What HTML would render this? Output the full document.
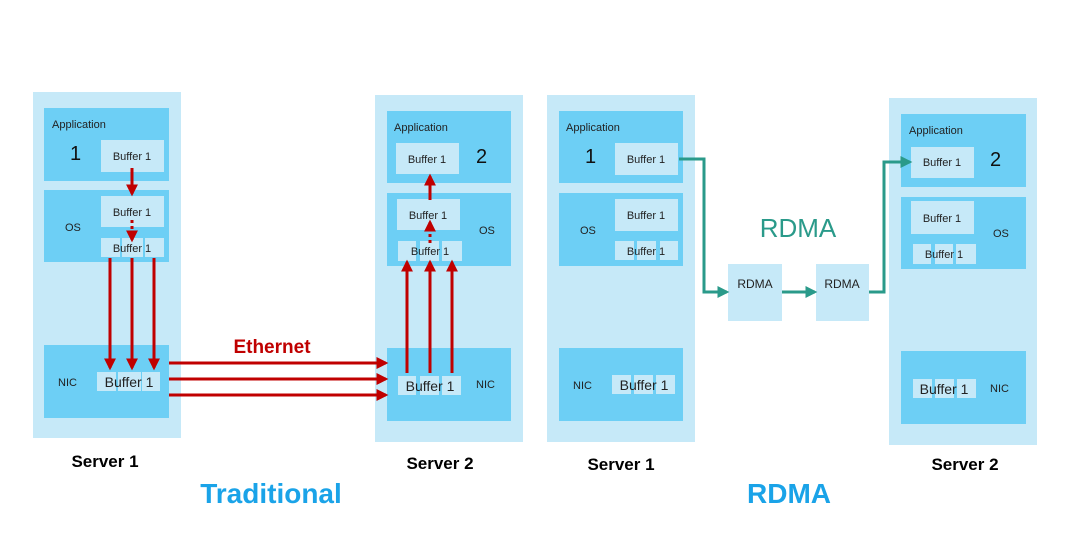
<!DOCTYPE html>
<html><head><meta charset="utf-8"><style>
html,body{margin:0;padding:0;background:#fff;}
svg{display:block;}
text{font-family:"Liberation Sans",sans-serif;}
</style></head><body>
<svg width="1066" height="541" viewBox="0 0 1066 541" xmlns="http://www.w3.org/2000/svg">
<defs>
<marker id="r" markerWidth="4" markerHeight="4" refX="3.2" refY="2" orient="auto" markerUnits="strokeWidth"><path d="M0,0 L4,2 L0,4 z" fill="#c00000"/></marker>
<marker id="t" markerWidth="4" markerHeight="4" refX="3.2" refY="2" orient="auto" markerUnits="strokeWidth"><path d="M0,0 L4,2 L0,4 z" fill="#2a9a8a"/></marker>
</defs>
<g fill="#c6e9f8">
<rect x="33" y="92" width="148" height="346"/>
<rect x="375" y="95" width="148" height="347"/>
<rect x="547" y="95" width="148" height="347"/>
<rect x="889" y="98" width="148" height="347"/>
<rect x="728" y="264" width="54" height="57"/>
<rect x="816" y="264" width="53" height="57"/>
</g>
<g fill="#6dcff5">
<rect x="44" y="108" width="125" height="73"/><rect x="44" y="190" width="125" height="72"/><rect x="44" y="345" width="125" height="73"/>
<rect x="387" y="111" width="124" height="72"/><rect x="387" y="193" width="124" height="73"/><rect x="387" y="348" width="124" height="73"/>
<rect x="559" y="111" width="124" height="72"/><rect x="559" y="193" width="124" height="73"/><rect x="559" y="348" width="124" height="73"/>
<rect x="901" y="114" width="125" height="73"/><rect x="901" y="197" width="125" height="72"/><rect x="901" y="351" width="125" height="73"/>
</g>
<g fill="#c6e9f8">
<rect x="101" y="140" width="63" height="32"/><rect x="101" y="196" width="63" height="31"/>
<rect x="101" y="238" width="19" height="19"/><rect x="122" y="238" width="21" height="19"/><rect x="145" y="238" width="19" height="19"/>
<rect x="97" y="372" width="19" height="19"/><rect x="118" y="372" width="23" height="19"/><rect x="142" y="372" width="18" height="19"/>
<rect x="396" y="143" width="63" height="31"/><rect x="397" y="199" width="63" height="31"/>
<rect x="398" y="241" width="18" height="20"/><rect x="420" y="241" width="19" height="20"/><rect x="442" y="241" width="20" height="20"/>
<rect x="398" y="376" width="18" height="19"/><rect x="420" y="376" width="19" height="19"/><rect x="442" y="376" width="19" height="19"/>
<rect x="615" y="143" width="63" height="32"/><rect x="615" y="199" width="63" height="32"/>
<rect x="615" y="241" width="19" height="19"/><rect x="637" y="241" width="19" height="19"/><rect x="660" y="241" width="18" height="19"/>
<rect x="612" y="375" width="19" height="19"/><rect x="634" y="375" width="19" height="19"/><rect x="656" y="375" width="19" height="19"/>
<rect x="911" y="147" width="63" height="31"/><rect x="911" y="201" width="63" height="33"/>
<rect x="913" y="244" width="18" height="20"/><rect x="935" y="244" width="18" height="20"/><rect x="956" y="244" width="20" height="20"/>
<rect x="913" y="379" width="19" height="19"/><rect x="935" y="379" width="19" height="19"/><rect x="957" y="379" width="19" height="19"/>
</g>
<g font-size="11" fill="#222">
<text x="52" y="128">Application</text><text x="394" y="131">Application</text><text x="566" y="131">Application</text><text x="909" y="134">Application</text>
<text x="132" y="160" text-anchor="middle">Buffer 1</text><text x="132" y="216" text-anchor="middle">Buffer 1</text><text x="132" y="252" text-anchor="middle">Buffer 1</text>
<text x="427" y="163" text-anchor="middle">Buffer 1</text><text x="428" y="219" text-anchor="middle">Buffer 1</text><text x="430" y="255" text-anchor="middle">Buffer 1</text>
<text x="646" y="163" text-anchor="middle">Buffer 1</text><text x="646" y="219" text-anchor="middle">Buffer 1</text><text x="646" y="255" text-anchor="middle">Buffer 1</text>
<text x="942" y="166" text-anchor="middle">Buffer 1</text><text x="942" y="222" text-anchor="middle">Buffer 1</text><text x="944" y="258" text-anchor="middle">Buffer 1</text>
<text x="65" y="231">OS</text><text x="479" y="234">OS</text><text x="580" y="234">OS</text><text x="993" y="237">OS</text>
<text x="58" y="386">NIC</text><text x="476" y="388">NIC</text><text x="573" y="389">NIC</text><text x="990" y="392">NIC</text>
<text x="755" y="288" text-anchor="middle" font-size="12">RDMA</text><text x="842" y="288" text-anchor="middle" font-size="12">RDMA</text>
</g>
<g font-size="14" fill="#222">
<text x="129" y="387" text-anchor="middle">Buffer 1</text><text x="430" y="391" text-anchor="middle">Buffer 1</text>
<text x="644" y="390" text-anchor="middle">Buffer 1</text><text x="944" y="394" text-anchor="middle">Buffer 1</text>
</g>
<g font-size="20" fill="#111">
<text x="70" y="160">1</text><text x="476" y="163">2</text><text x="585" y="163">1</text><text x="990" y="166">2</text>
</g>
<g stroke="#c00000" stroke-width="3" fill="none">
<line x1="132" y1="168" x2="132" y2="194" marker-end="url(#r)"/>
<line x1="132" y1="220" x2="132" y2="240" stroke-dasharray="3,3" marker-end="url(#r)"/>
<line x1="110" y1="258" x2="110" y2="368" marker-end="url(#r)"/>
<line x1="132" y1="258" x2="132" y2="368" marker-end="url(#r)"/>
<line x1="154" y1="258" x2="154" y2="368" marker-end="url(#r)"/>
<line x1="169" y1="363" x2="386" y2="363" marker-end="url(#r)"/>
<line x1="169" y1="379" x2="386" y2="379" marker-end="url(#r)"/>
<line x1="169" y1="395" x2="386" y2="395" marker-end="url(#r)"/>
<line x1="407" y1="373" x2="407" y2="262" marker-end="url(#r)"/>
<line x1="430" y1="373" x2="430" y2="262" marker-end="url(#r)"/>
<line x1="452" y1="373" x2="452" y2="262" marker-end="url(#r)"/>
<line x1="430" y1="243" x2="430" y2="222" stroke-dasharray="3,3" marker-end="url(#r)"/>
<line x1="430" y1="200" x2="430" y2="176" marker-end="url(#r)"/>
</g>
<g stroke="#2a9a8a" stroke-width="3" fill="none">
<polyline points="679,159 704,159 704,292 727,292" marker-end="url(#t)"/>
<line x1="782" y1="292" x2="815" y2="292" marker-end="url(#t)"/>
<polyline points="869,292 884,292 884,162 910,162" marker-end="url(#t)"/>
</g>
<text x="272" y="353" text-anchor="middle" font-size="19" font-weight="bold" fill="#c00000">Ethernet</text>
<text x="798" y="237" text-anchor="middle" font-size="26" fill="#2a9a8a">RDMA</text>
<g font-size="17" font-weight="bold" fill="#000" text-anchor="middle">
<text x="105" y="467">Server 1</text><text x="440" y="469">Server 2</text><text x="621" y="470">Server 1</text><text x="965" y="470">Server 2</text>
</g>
<g font-size="28" font-weight="bold" fill="#1aa3e8" text-anchor="middle">
<text x="271" y="503">Traditional</text><text x="789" y="503">RDMA</text>
</g>
</svg>
</body></html>
